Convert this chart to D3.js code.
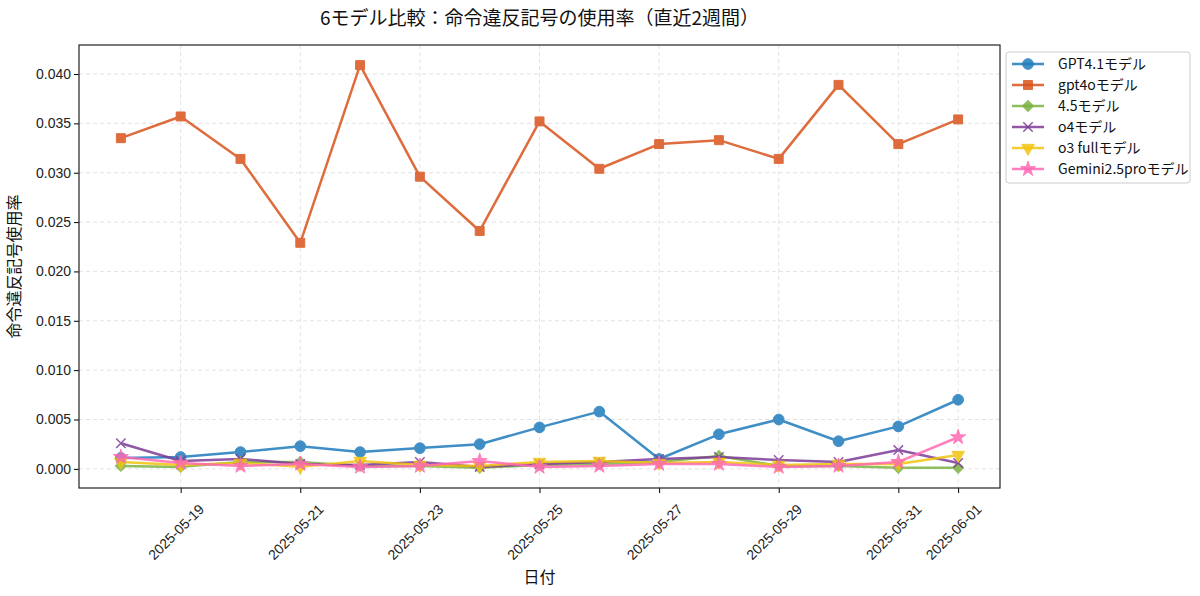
<!DOCTYPE html>
<html>
<head>
<meta charset="utf-8">
<script src="https://cdn.jsdelivr.net/npm/d3@7"></script>
<style>
  body { margin: 0; background: #fff; }
  svg { font-family: "Noto Sans CJK JP", "Noto Sans", sans-serif; }
</style>
</head>
<body>
<svg id="chart" width="1200" height="596"></svg>
<script>
// data
var dates = ["2025-05-18", "2025-05-19", "2025-05-20", "2025-05-21", "2025-05-22",
  "2025-05-23", "2025-05-24", "2025-05-25", "2025-05-26", "2025-05-27",
  "2025-05-28", "2025-05-29", "2025-05-30", "2025-05-31", "2025-06-01"];
var gpt41 = [0.0011, 0.0012, 0.0017, 0.0023, 0.0017, 0.0021, 0.0025, 0.0042, 0.0058, 0.0010, 0.0035, 0.0050, 0.0028, 0.0043, 0.0070];
var gpt4o = [0.0335, 0.0357, 0.0314, 0.0229, 0.0409, 0.0296, 0.0241, 0.0352, 0.0304, 0.0329, 0.0333, 0.0314, 0.0389, 0.0329, 0.0354];
var m45 = [0.0003, 0.0002, 0.0007, 0.0007, 0.0003, 0.0003, 0.0001, 0.0004, 0.0005, 0.0007, 0.0013, 0.0003, 0.0003, 0.0001, 0.0001];
var o4 = [0.0026, 0.0008, 0.0010, 0.0005, 0.0004, 0.0007, 0.0002, 0.0005, 0.0007, 0.0010, 0.0012, 0.0009, 0.0007, 0.0019, 0.0006];
var o3 = [0.0007, 0.0004, 0.0006, 0.0002, 0.0008, 0.0004, 0.0003, 0.0007, 0.0008, 0.0006, 0.0007, 0.0004, 0.0005, 0.0005, 0.0014];
var gemini = [0.0012, 0.0006, 0.0003, 0.0005, 0.0002, 0.0003, 0.0008, 0.0002, 0.0003, 0.0005, 0.0005, 0.0002, 0.0003, 0.0007, 0.0032];

var names = ["GPT4.1モデル", "gpt4oモデル", "4.5モデル", "o4モデル", "o3 fullモデル", "Gemini2.5proモデル"];
var xTicks = ["2025-05-19", "2025-05-21", "2025-05-23", "2025-05-25", "2025-05-27", "2025-05-29", "2025-05-31", "2025-06-01"];
var yTicks = [0, 0.005, 0.01, 0.015, 0.02, 0.025, 0.03, 0.035, 0.04];

var colors = ["#1f7bbd", "#d9531c", "#7cb342", "#7d3c98", "#f1c40f", "#ff69b4"];
var markers = ["circle", "square", "diamond", "times", "triangle", "star"];

var parse = d3.timeParse("%Y-%m-%d");
var series = [gpt41, gpt4o, m45, o4, o3, gemini].map(function (vals, i) {
  return {
    name: names[i],
    color: colors[i],
    kind: markers[i],
    values: vals.map(function (v, j) { return { date: parse(dates[j]), value: v }; })
  };
});

var svg = d3.select("#chart"),
  margin = { top: 45, left: 79, bottom: 108, right: 200 },
  width = +svg.attr("width"),
  height = +svg.attr("height");

var d0 = parse(dates[0]), d1 = parse(dates[dates.length - 1]);
var pad = (d1 - d0) * 0.05;
var x = d3.scaleTime()
  .domain([new Date(+d0 - pad), new Date(+d1 + pad)])
  .range([margin.left, width - margin.right]);

var all = [].concat(gpt41, gpt4o, m45, o4, o3, gemini);
var lo = d3.min(all), hi = d3.max(all), yp = (hi - lo) * 0.05;
var y = d3.scaleLinear()
  .domain([lo - yp, hi + yp])
  .range([height - margin.bottom, margin.top]);

// grid
svg.append("g")
  .selectAll("line")
  .data(yTicks)
  .join("line")
  .attr("x1", margin.left).attr("x2", width - margin.right)
  .attr("y1", (d) => y(d)).attr("y2", (d) => y(d))
  .attr("stroke", "#dcdcdc").attr("stroke-dasharray", "4,3").attr("stroke-width", 0.8);
svg.append("g")
  .selectAll("line")
  .data(xTicks)
  .join("line")
  .attr("x1", (d) => x(parse(d))).attr("x2", (d) => x(parse(d)))
  .attr("y1", margin.top).attr("y2", height - margin.bottom)
  .attr("stroke", "#dcdcdc").attr("stroke-dasharray", "4,3").attr("stroke-width", 0.8);

// axes
var xAxis = svg.append("g")
  .attr("transform", `translate(0,${height - margin.bottom})`)
  .call(d3.axisBottom(x).tickValues(xTicks.map(parse)).tickFormat(d3.timeFormat("%Y-%m-%d")).tickSizeOuter(0).tickSize(5));
xAxis.selectAll("text")
  .attr("font-size", 14).attr("fill", "#222")
  .attr("text-anchor", "middle")
  .attr("y", 0).attr("dy", "0.35em")
  .attr("transform", "translate(-5,44) rotate(-45)");

var yAxis = svg.append("g")
  .attr("transform", `translate(${margin.left},0)`)
  .call(d3.axisLeft(y).tickValues(yTicks).tickFormat(d3.format(".3f")).tickSizeOuter(0).tickSize(5));
yAxis.selectAll("text").attr("font-size", 14).attr("fill", "#222");

svg.selectAll(".domain").remove();
svg.append("rect")
  .attr("x", margin.left).attr("y", margin.top)
  .attr("width", width - margin.right - margin.left)
  .attr("height", height - margin.bottom - margin.top)
  .attr("fill", "none").attr("stroke", "#222").attr("stroke-width", 1.2);

// marker shapes
var shapes = {
  circle: { type: d3.symbolCircle, size: 90, rot: 0 },
  square: { type: d3.symbolSquare, size: 80, rot: 0 },
  diamond: { type: d3.symbolSquare, size: 60, rot: 45 },
  times: { type: d3.symbolTimes, size: 60, rot: 0 },
  triangle: { type: d3.symbolTriangle, size: 70, rot: 180 },
  star: { type: d3.symbolStar, size: 70, rot: 0 }
};
function marker(sel, s) {
  var m = shapes[s.kind];
  sel.attr("d", d3.symbol().type(m.type).size(m.size)())
    .attr("fill", s.kind === "times" ? "none" : s.color)
    .attr("stroke", s.color)
    .attr("stroke-width", s.kind === "times" ? 1.5 : 1);
}

// lines + markers
var line = d3.line().x((d) => x(d.date)).y((d) => y(d.value));
var layer = svg.selectAll("g.layer").data(series).join("g").attr("class", "layer").attr("opacity", 0.85);
layer.append("path")
  .attr("d", (d) => line(d.values))
  .attr("fill", "none").attr("stroke", (d) => d.color).attr("stroke-width", 2.5)
  .attr("stroke-linejoin", "round");
layer.each(function (s) {
  d3.select(this).selectAll("path.pt")
    .data(s.values)
    .join("path")
    .attr("class", "pt")
    .attr("transform", (d) => `translate(${x(d.date)},${y(d.value)}) rotate(${shapes[s.kind].rot})`)
    .call(marker, s);
});

// title & labels
svg.append("text").attr("x", (margin.left + width - margin.right) / 2).attr("y", 25)
  .attr("text-anchor", "middle").attr("font-size", 19).attr("fill", "#111")
  .text("6モデル比較：命令違反記号の使用率（直近2週間）");
svg.append("text").attr("x", (margin.left + width - margin.right) / 2).attr("y", 583)
  .attr("text-anchor", "middle").attr("font-size", 16).attr("fill", "#111").text("日付");
svg.append("text").attr("transform", `translate(20,${(margin.top + height - margin.bottom) / 2}) rotate(-90)`)
  .attr("text-anchor", "middle").attr("font-size", 16).attr("fill", "#111").text("命令違反記号使用率");

// legend
var lg = svg.append("g").attr("transform", "translate(1006,52)");
lg.append("rect").attr("width", 184).attr("height", 131).attr("rx", 3)
  .attr("fill", "#fff").attr("stroke", "#ccc");
var item = lg.selectAll("g.item").data(series).join("g").attr("class", "item")
  .attr("transform", (d, i) => `translate(6,${12 + i * 21})`);
item.append("line").attr("x1", 0).attr("x2", 32).attr("stroke", (d) => d.color).attr("stroke-width", 2.5)
  .attr("opacity", 0.85);
item.append("path").attr("opacity", 0.85)
  .attr("transform", (d) => `translate(16,0) rotate(${shapes[d.kind].rot})`)
  .each(function (d) { d3.select(this).call(marker, d); });
item.append("text").attr("x", 46).attr("dy", "0.35em").attr("font-size", 14).attr("fill", "#111")
  .text((d) => d.name);
</script>
</body>
</html>
